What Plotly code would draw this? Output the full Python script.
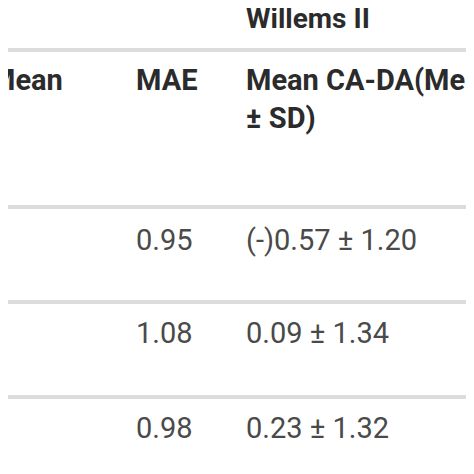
import plotly.graph_objects as go

group_label = "Willems II"
header_labels = ["Mean", "MAE", "Mean CA-DA(Mean<br>± SD)"]
mae_values = ["0.95", "1.08", "0.98"]
mean_sd_values = ["(-)0.57 ± 1.20", "0.09 ± 1.34", "0.23 ± 1.32"]

# page body adds an 8px offset, so positions are shifted back by 8
off = 8
row_y = [240, 333, 428]
line_y = [50, 207, 302, 397]

fig = go.Figure()
fig.update_xaxes(range=[off, 474 + off], visible=False, fixedrange=True)
fig.update_yaxes(range=[474 + off, off], visible=False, fixedrange=True)

for y in line_y:
    fig.add_shape(type="line", x0=-50, x1=600, y0=y, y1=y, xref="x", yref="y",
                  line=dict(color="#dcdcdc", width=4))

head = dict(family="Roboto", size=29, color="#2b2b2b", weight="bold")
body = dict(family="Roboto", size=29, color="#4a4a4a")

fig.add_annotation(x=244, y=18, text=group_label, xanchor="left", yanchor="middle",
                   showarrow=False, font=dict(family="Roboto", size=28, color="#2b2b2b", weight="bold"))
fig.add_annotation(x=65, y=80, text=header_labels[0], xanchor="right", yanchor="middle",
                   showarrow=False, font=head)
fig.add_annotation(x=134, y=80, text=header_labels[1], xanchor="left", yanchor="middle",
                   showarrow=False, font=head)
fig.add_annotation(x=244, y=80, text=header_labels[2], xanchor="left", yanchor="top",
                   yshift=19, align="left", showarrow=False, font=head)

for y, mae, msd in zip(row_y, mae_values, mean_sd_values):
    fig.add_annotation(x=134, y=y, text=mae, xanchor="left", yanchor="middle",
                       showarrow=False, font=body)
    fig.add_annotation(x=244, y=y, text=msd, xanchor="left", yanchor="middle",
                       showarrow=False, font=body)

fig.update_layout(width=474, height=474, margin=dict(l=0, r=0, t=0, b=0),
                  plot_bgcolor="white", paper_bgcolor="white", showlegend=False)

fig.write_html("out.html")
